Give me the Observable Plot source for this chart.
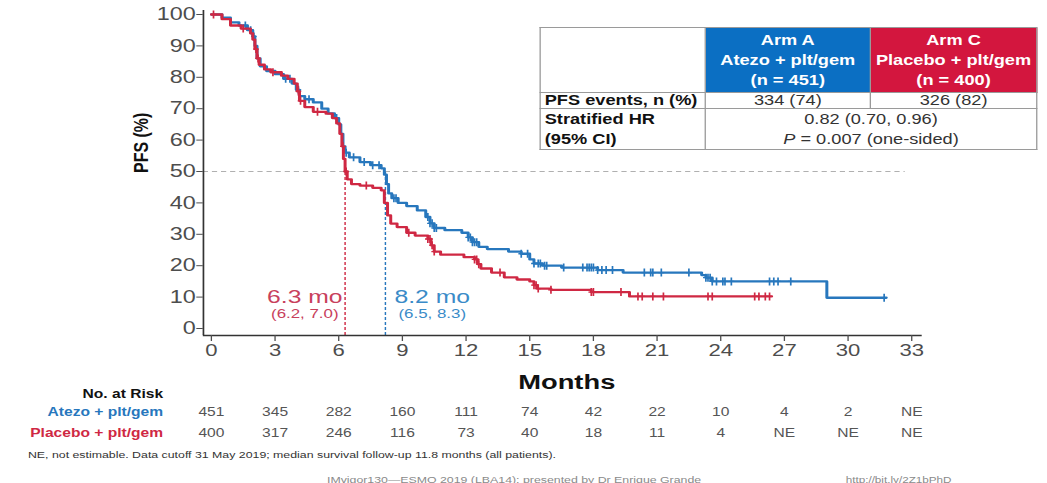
<!DOCTYPE html>
<html>
<head>
<meta charset="utf-8">
<script src="https://cdn.jsdelivr.net/npm/d3@7"></script>
<script src="https://cdn.jsdelivr.net/npm/@observablehq/plot@0.6"></script>
<style>
  html, body { margin: 0; padding: 0; background: #fff; overflow: hidden; }
  #wrap { position: relative; width: 805px; height: 483px; transform: scale(1.3, 1); transform-origin: 0 0; font-family: "Liberation Sans", Arial, sans-serif; }
  #tbl { position: absolute; left: 415px; top: 27px; }
  #tbl table { border-collapse: collapse; font-size: 14px; color: #333; }
  #tbl td { border: 1px solid #9a9a9a; padding: 0; text-align: center; vertical-align: middle; }
  #tbl td.lab { text-align: left; font-weight: bold; color: #111; padding-left: 3px; }
  #tbl tr.head td { height: 64px; line-height: 20px; font-weight: bold; color: #fff; }
  #tbl tr.ev td { height: 15px; line-height: 15px; }
  #tbl tr.hr td { height: 39px; line-height: 20px; }
</style>
</head>
<body>
<div id="wrap">
  <div id="chart"></div>
  <div id="tbl"></div>
</div>
<script>
// ---------------- data ----------------
const atezoMonths = [0, 0.5, 0.9, 1.3, 1.7, 1.95, 2.05, 2.15, 2.3, 2.6, 3.0, 3.4, 3.8, 4.0, 4.15, 4.4, 4.8, 5.2, 5.5, 5.8, 6.0, 6.1, 6.2, 6.3, 6.5, 7.0, 7.5, 8.0, 8.15, 8.25, 8.35, 8.5, 8.8, 9.2, 9.7, 10.1, 10.3, 10.5, 11.0, 11.8, 12.1, 12.3, 12.6, 13.0, 14.0, 14.6, 15.0, 15.2, 15.6, 16.5, 18.2, 19.4, 23.1, 23.3, 23.6, 29.0, 31.8];
const atezoPFS    = [100, 99, 97.5, 96.5, 95, 93, 90, 86, 83.5, 82, 81, 79.5, 78, 76, 74, 73, 72, 70, 68.5, 67, 65, 62, 58, 56, 54.5, 53, 52, 51, 49, 46, 43, 41.5, 40, 39, 37.6, 35.5, 33.5, 32, 31.3, 30.5, 29, 27.5, 26, 25.3, 24.5, 23.8, 22, 20.7, 20, 19.4, 18.6, 17.8, 17.0, 16.2, 15.0, 9.8, 9.8];
const placeboMonths = [0, 0.5, 0.9, 1.4, 1.84, 1.95, 2.05, 2.15, 2.25, 2.5, 2.8, 3.3, 3.6, 3.9, 4.05, 4.15, 4.4, 4.8, 5.4, 5.7, 5.9, 6.05, 6.15, 6.22, 6.3, 6.4, 6.6, 7.0, 7.6, 8.0, 8.15, 8.3, 8.45, 8.75, 9.2, 9.6, 10.2, 10.35, 10.5, 10.8, 11.9, 12.4, 12.55, 12.7, 13.2, 13.8, 14.4, 15.0, 15.2, 15.35, 16.0, 17.9, 19.7, 26.4];
const placeboPFS    = [100, 98.5, 96.5, 95.5, 94, 92, 89, 86, 84, 82.5, 81.6, 80.5, 79.5, 78, 75.5, 72.5, 70.5, 69, 68.4, 67, 65.3, 62, 58, 54, 50, 47.5, 46, 45.5, 44.8, 44, 40, 36, 33.4, 32.3, 30.5, 29.6, 28.5, 26.5, 24.5, 23.5, 22.7, 22, 20.5, 19.1, 17.8, 16.3, 15.6, 15, 13.8, 12.7, 12.3, 11.6, 10.2, 10.2];
const atezoCensored = [1.6, 1.85, 2.0, 3.5, 3.7, 4.1, 4.6, 5.9, 6.35, 6.7, 7.2, 7.6, 7.9, 8.6, 8.7, 10.2, 10.3, 10.4, 10.5, 10.6, 12.1, 12.2, 12.3, 12.4, 12.5, 14.6, 14.9, 15.2, 15.4, 15.5, 15.7, 15.8, 16.6, 17.5, 17.7, 17.8, 17.9, 18.0, 18.2, 18.4, 18.6, 18.9, 20.4, 20.7, 20.8, 21.2, 22.5, 23.3, 23.4, 23.5, 23.6, 23.8, 24.1, 24.2, 24.5, 26.3, 26.5, 26.7, 27.3, 31.7];
const placeboCensored = [0.1, 1.5, 2.1, 2.2, 2.9, 4.1, 4.2, 5.0, 6.2, 6.35, 7.3, 9.3, 10.2, 10.3, 10.4, 10.5, 12.4, 12.5, 12.6, 13.6, 15.2, 15.3, 15.4, 16.0, 17.9, 18.0, 19.3, 20.1, 20.3, 20.8, 21.3, 23.4, 23.6, 25.6, 25.8, 26.1, 26.3];

const medianMonths = { atezo: 8.2, placebo: 6.3 };
const medianLabels = { atezo: "8.2 mo", placebo: "6.3 mo" };
const medianCIs    = { atezo: "(6.5, 8.3)", placebo: "(6.2, 7.0)" };

const xTicks = [0, 3, 6, 9, 12, 15, 18, 21, 24, 27, 30, 33];
const yTicks = [0, 10, 20, 30, 40, 50, 60, 70, 80, 90, 100];
const riskMonths   = [0, 3, 6, 9, 12, 15, 18, 21, 24, 27, 30, 33];
const atezoRisk    = ["451", "345", "282", "160", "111", "74", "42", "22", "10", "4", "2", "NE"];
const placeboRisk  = ["400", "317", "246", "116", "73", "40", "18", "11", "4", "NE", "NE", "NE"];
const armLabels    = ["Atezo + plt/gem", "Placebo + plt/gem"];

const tableArms    = ["Arm A", "Arm C"];
const tableDrugs   = ["Atezo + plt/gem", "Placebo + plt/gem"];
const tableN       = ["(n = 451)", "(n = 400)"];
const tableEvents  = ["334 (74)", "326 (82)"];
const tableHR      = "0.82 (0.70, 0.96)";
const tableP       = "0.007 (one-sided)";

const footnote = "NE, not estimable. Data cutoff 31 May 2019; median survival follow-up 11.8 months (all patients).";
const credit1 = "IMvigor130\u2014ESMO 2019 (LBA14); presented by Dr Enrique Grande";
const credit2 = "http://bit.ly/2Z1bPhD";

// ---------------- style ----------------
const FONT = "'Liberation Sans', Arial, sans-serif";
const BLUE = "#2777bd", RED = "#cf2843";
const BLUE_TXT = "#3a8bc8", RED_TXT = "#c8405c";
const HEAD_BLUE = "#0b6fc3", HEAD_RED = "#d3163e";
const X_DOMAIN = [-0.374, 33.5];
const Y_DOMAIN = [-2.23, 101.27];

function survAt(T, S, t) {
  let v = S[0];
  for (let i = 0; i < T.length; i++) { if (T[i] <= t) v = S[i]; else break; }
  return v;
}
const atezo = atezoMonths.map((t, i) => ({ t, s: atezoPFS[i] }));
const placebo = placeboMonths.map((t, i) => ({ t, s: placeboPFS[i] }));
const atezoC = atezoCensored.map(t => ({ t, s: survAt(atezoMonths, atezoPFS, t) }));
const placeboC = placeboCensored.map(t => ({ t, s: survAt(placeboMonths, placeboPFS, t) }));

const censorSymbol = {
  draw(ctx, size) {
    const h = Math.sqrt(size / Math.PI);
    ctx.moveTo(0, -h); ctx.lineTo(0, h);
    ctx.moveTo(-h * 0.55, 0); ctx.lineTo(h * 0.55, 0);
  }
};

const chart = Plot.plot({
  width: 805, height: 483,
  marginLeft: 156, marginRight: 96, marginTop: 10, marginBottom: 148,
  x: { domain: X_DOMAIN, axis: null },
  y: { domain: Y_DOMAIN, axis: null },
  style: { fontFamily: FONT, background: "white" },
  marks: [
    Plot.ruleY([50], { x1: X_DOMAIN[0], x2: 32.7, stroke: "#b0b0b0", strokeWidth: 1.2, strokeDasharray: "4,3" }),
    Plot.ruleX([medianMonths.placebo], { y1: Y_DOMAIN[0], y2: 50, stroke: RED, strokeWidth: 1.1, strokeDasharray: "3,2" }),
    Plot.ruleX([medianMonths.atezo], { y1: Y_DOMAIN[0], y2: 50, stroke: BLUE, strokeWidth: 1.1, strokeDasharray: "3,2" }),
    Plot.line(atezo, { x: "t", y: "s", curve: "step-after", stroke: BLUE, strokeWidth: 2.3 }),
    Plot.dot(atezoC, { x: "t", y: "s", symbol: censorSymbol, r: 4, stroke: BLUE, strokeWidth: 1.3, fill: "none" }),
    Plot.line(placebo, { x: "t", y: "s", curve: "step-after", stroke: RED, strokeWidth: 2.3 }),
    Plot.dot(placeboC, { x: "t", y: "s", symbol: censorSymbol, r: 4, stroke: RED, strokeWidth: 1.3, fill: "none" }),
    // axes
    Plot.ruleX([X_DOMAIN[0]], { stroke: "#333", strokeWidth: 1.3 }),
    Plot.ruleY([Y_DOMAIN[0]], { stroke: "#333", strokeWidth: 1.3 }),
    Plot.axisY(yTicks, { tickSize: 5, tickPadding: 1, fontSize: 18, color: "#4d4d4d", label: null }),
    Plot.axisX(xTicks, { tickSize: 6, tickPadding: 2, fontSize: 17, color: "#4d4d4d", label: null }),
    Plot.text(["PFS (%)"], { frameAnchor: "left", dx: -48, rotate: -90, fontWeight: "bold", fontSize: 16, fill: "#111" }),
    Plot.text(["Months"], { frameAnchor: "bottom", dx: 3, dy: 53, fontWeight: "bold", fontSize: 21, fill: "#111" }),
    // median annotations
    Plot.text([medianMonths.placebo], { x: d => d, y: 10.2, dx: -31, text: [medianLabels.placebo], fontSize: 19, fill: RED_TXT }),
    Plot.text([medianMonths.placebo], { x: d => d, y: 4.6, dx: -31, text: [medianCIs.placebo], fontSize: 13, fill: RED_TXT }),
    Plot.text([medianMonths.atezo], { x: d => d, y: 10.2, dx: 36, text: [medianLabels.atezo], fontSize: 19, fill: BLUE_TXT }),
    Plot.text([medianMonths.atezo], { x: d => d, y: 4.6, dx: 36, text: [medianCIs.atezo], fontSize: 13, fill: BLUE_TXT }),
    // number at risk
    Plot.text(["No. at Risk"], { frameAnchor: "bottom-left", dx: -31, dy: 62, textAnchor: "end", fontWeight: "bold", fontSize: 12, fill: "#111" }),
    Plot.text([armLabels[0]], { frameAnchor: "bottom-left", dx: -31, dy: 80, textAnchor: "end", fontWeight: "bold", fontSize: 12, fill: BLUE }),
    Plot.text([armLabels[1]], { frameAnchor: "bottom-left", dx: -31, dy: 101, textAnchor: "end", fontWeight: "bold", fontSize: 12, fill: RED }),
    Plot.text(riskMonths, { x: d => d, text: (d, i) => atezoRisk[i], frameAnchor: "bottom", dy: 80, fontSize: 12, fill: "#555" }),
    Plot.text(riskMonths, { x: d => d, text: (d, i) => placeboRisk[i], frameAnchor: "bottom", dy: 101, fontSize: 12, fill: "#555" }),
    Plot.text([footnote], { frameAnchor: "bottom-left", dx: -135, dy: 122, textAnchor: "start", fontSize: 9.5, fill: "#333" }),
    Plot.text([credit1], { frameAnchor: "bottom-left", dx: 95, dy: 147, textAnchor: "start", lineAnchor: "bottom", fontSize: 9.5, fill: "#8a8a8a" }),
    Plot.text([credit2], { frameAnchor: "bottom-left", dx: 494, dy: 147, textAnchor: "start", lineAnchor: "bottom", fontSize: 9, fill: "#8a8a8a" })
  ]
});
document.getElementById("chart").appendChild(chart);

// ---------------- summary table ----------------
const tbl = document.createElement("table");
const colW = [126, 126, 127];
function td(html, cls, style) {
  const c = document.createElement("td");
  c.innerHTML = html;
  if (cls) c.className = cls;
  if (style) Object.assign(c.style, style);
  return c;
}
const r1 = document.createElement("tr"); r1.className = "head";
r1.appendChild(td("", null, { width: colW[0] + "px", background: "#fff" }));
r1.appendChild(td(`${tableArms[0]}<br>${tableDrugs[0]}<br>${tableN[0]}`, null, { width: colW[1] + "px", background: HEAD_BLUE }));
r1.appendChild(td(`${tableArms[1]}<br>${tableDrugs[1]}<br>${tableN[1]}`, null, { width: colW[2] + "px", background: HEAD_RED }));
const r2 = document.createElement("tr"); r2.className = "ev";
r2.appendChild(td("PFS events, n (%)", "lab"));
r2.appendChild(td(tableEvents[0]));
r2.appendChild(td(tableEvents[1]));
const r3 = document.createElement("tr"); r3.className = "hr";
r3.appendChild(td("Stratified HR<br>(95% CI)", "lab"));
const c3 = td(`${tableHR}<br><i>P</i> = ${tableP}`); c3.colSpan = 2;
r3.appendChild(c3);
tbl.append(r1, r2, r3);
document.getElementById("tbl").appendChild(tbl);
</script>
</body>
</html>
